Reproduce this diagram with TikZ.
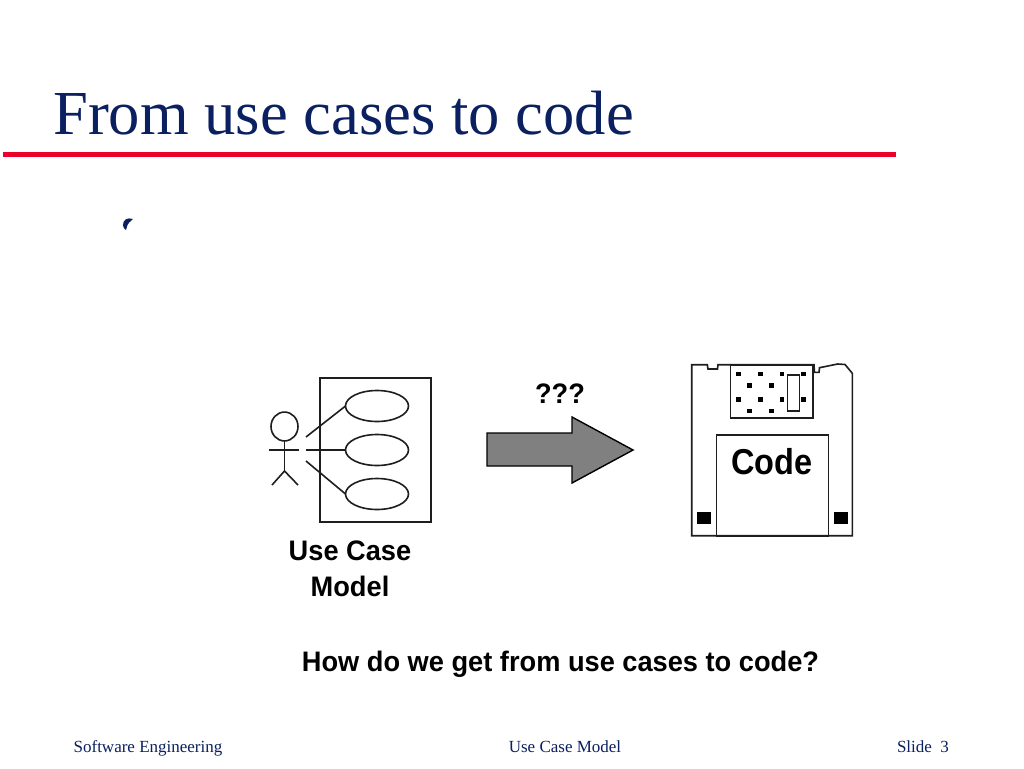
\documentclass[tikz,border=0pt]{standalone}
\usepackage{fontspec}
\setmainfont{Liberation Serif}
\newfontfamily\diagramfont{Liberation Sans}[BoldFont={Liberation Sans Bold}]
\usepackage{xcolor}
\usetikzlibrary{arrows,shapes,positioning}
\definecolor{slidenavy}{RGB}{10,32,96}
\definecolor{slidered}{RGB}{236,0,44}
\definecolor{linegray}{RGB}{30,30,30}
\tikzstyle{usecase} = [ellipse, minimum width=63pt, minimum height=31pt, inner sep=0pt, outer sep=0pt, draw=linegray, line width=1.6pt]
\tikzstyle{frame} = [rectangle, inner sep=0pt, outer sep=0pt, draw=linegray, line width=1.6pt]
\tikzstyle{stick} = [draw=linegray, line width=1.6pt]
\tikzstyle{dot} = [rectangle, minimum size=4.6pt, inner sep=0pt, outer sep=0pt, fill=black]
\tikzstyle{hole} = [rectangle, minimum width=14pt, minimum height=12.5pt, inner sep=0pt, outer sep=0pt, fill=black]
\tikzstyle{label} = [inner sep=0pt, xscale=0.965, font=\diagramfont\bfseries\fontsize{28.2}{36}\selectfont, align=center, text=black]
\tikzstyle{footer} = [inner sep=0pt, anchor=base, font=\fontsize{17}{18}\selectfont, text=slidenavy]

\begin{document}
\begin{tikzpicture}[x=1pt,y=-1pt]
\useasboundingbox (0,0) rectangle (1024,768);
\fill[white] (0,0) rectangle (1024,768);

% Title
\node[inner sep=0pt, anchor=base west, font=\fontsize{62.6}{70}\selectfont, text=slidenavy] (title) at (53,134) {From use cases to code};
\coordinate (ruleleft) at (3,154);
\coordinate (ruleright) at (896,154);
\draw[slidered, line width=5pt] (ruleleft) -- (ruleright);
\fill[slidenavy] (133,219) .. controls (127,217) and (123,220) .. (123,225) .. controls (123,227) and (124,229) .. (126,230) -- (127.5,225) .. controls (128,223) and (130,222) .. (133,219) -- cycle;

% Use case model
\node[frame, minimum width=111pt, minimum height=144pt] (system) at (375.5,450) {};
\node[usecase] (ucmid) at (377,450) {};
\node[usecase, above=13pt of ucmid] (uctop) {};
\node[usecase, below=13pt of ucmid] (ucbot) {};

% Actor
\node[circle, stick, minimum width=27pt, inner sep=0pt, outer sep=0pt, yscale=1.07] (head) at (284.5,426.5) {};
\coordinate (armleft) at (269,450);
\coordinate (armright) at (299,450);
\coordinate (hip) at (284.5,471);
\coordinate (footleft) at (272,485);
\coordinate (footright) at (298,485);
\draw[stick] (armleft) -- (armright);
\draw[stick] (head.south) -- (hip);
\draw[stick] (footleft) -- (hip) -- (footright);

\coordinate (linktop) at (306,437);
\coordinate (linkmid) at (306,450);
\coordinate (linkbot) at (306,461);
\draw[stick] (linktop) -- (uctop.west);
\draw[stick] (linkmid) -- (ucmid.west);
\draw[stick] (linkbot) -- (ucbot.west);

\node[label, anchor=north] (modellabel) at (350,540.5) {Use Case\\Model};

% Arrow
\draw[draw=black, fill=black!50, line width=1.4pt, line join=miter] (487,433) -- (572,433) -- (572,417) -- (633,450) -- (572,483) -- (572,466) -- (487,466) -- cycle;
\node[label, anchor=base] (marks) at (560,403) {???};

% Floppy disk
\draw[stick, line join=miter] (691.7,535.7) -- (691.7,364.7) -- (707.3,364.7) -- (708,369) -- (717.5,369) -- (718,364.7) -- (814,364.7) -- (814.5,372.3) -- (819,372.3) -- (819.5,367.7) -- (837.7,364) -- (845,364.5) -- (852.3,373.3) -- (852.3,535.7) -- cycle;
\node[frame, minimum width=82.4pt, minimum height=53.3pt, anchor=north west] (shutter) at (730.3,364.7) {};
\node[frame, minimum width=12pt, minimum height=35.7pt, anchor=north west] (slot) at (787.3,375) {};
\node[frame, minimum width=112pt, minimum height=100.7pt, anchor=north west] (sticker) at (716.3,435) {};
\node[label, anchor=base, xscale=0.935, font=\diagramfont\bfseries\fontsize{36}{38}\selectfont] (code) at (772,474) {Code};
\foreach \x/\y in {738.7/374,760.3/374,782/374,803.7/374,749.3/385.7,771.7/385.7,738.7/399.3,760.3/399.3,782/399.3,803.7/399.3,749.3/411,771.7/411}
  \node[dot] at (\x,\y) {};
\node[hole] (holeleft) at (704,518) {};
\node[hole] (holeright) at (840.7,518) {};

% Question
\node[label, anchor=base] (question) at (560.5,671) {How do we get from use cases to code?};

% Footer
\node[footer] (course) at (148,752) {Software Engineering};
\node[footer] (topic) at (565,752) {Use Case Model};
\node[footer] (page) at (923,752) {Slide\ \ 3};
\end{tikzpicture}
\end{document}
